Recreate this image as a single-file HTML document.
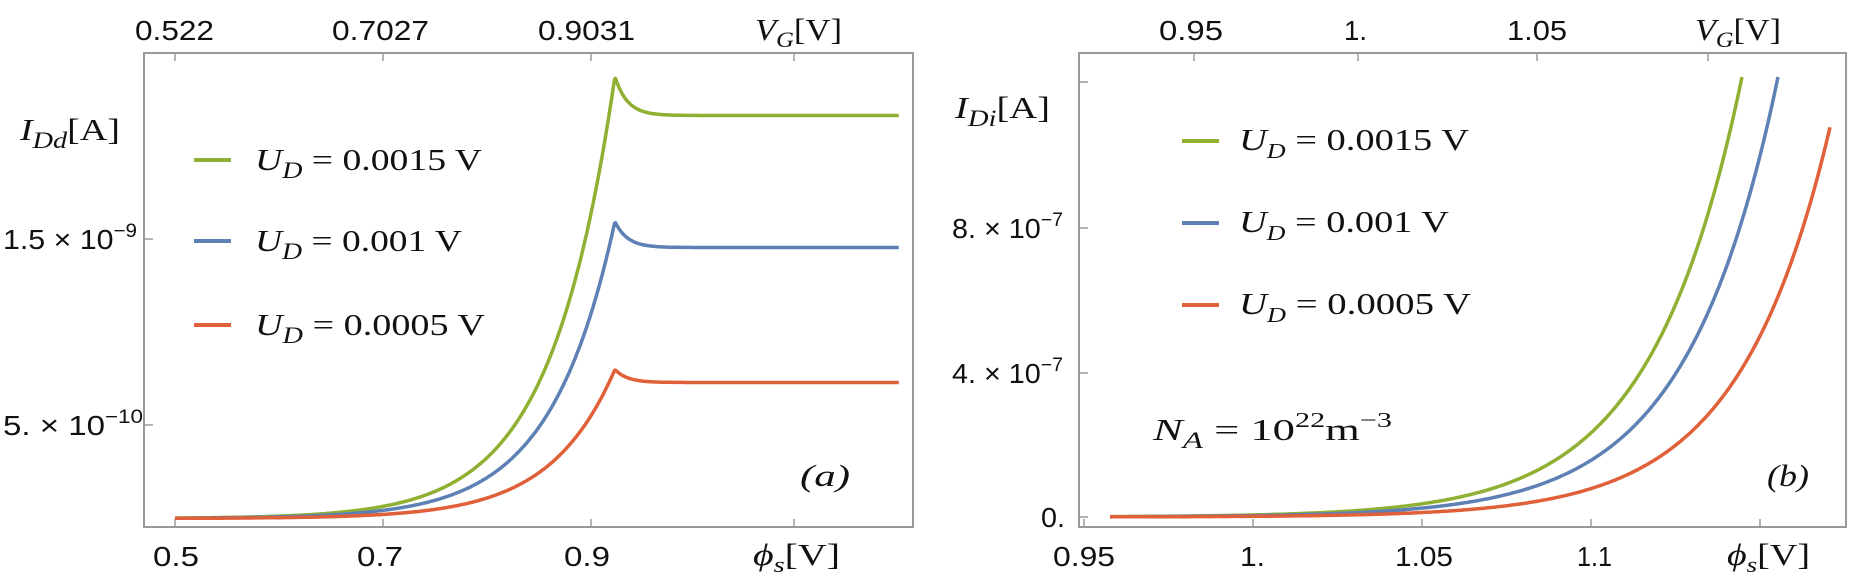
<!DOCTYPE html>
<html><head><meta charset="utf-8"><style>
html,body{margin:0;padding:0;background:#fff;}
svg{display:block;}
.s{font-family:"Liberation Sans",sans-serif;font-size:28px;fill:#111;}
.r{font-family:"Liberation Serif",serif;font-size:31px;fill:#111;}
.i{font-style:italic;}
</style></head><body>
<svg id="c" width="1850" height="585" viewBox="0 0 1850 585" xmlns="http://www.w3.org/2000/svg">
<rect width="1850" height="585" fill="#fff"/>
<rect x="144" y="53" width="769" height="474" fill="none" stroke="#9a9a9a" stroke-width="2"/>
<g stroke="#9a9a9a" stroke-width="1.5">
<line x1="175" y1="527" x2="175" y2="519"/><line x1="383" y1="527" x2="383" y2="519"/><line x1="591" y1="527" x2="591" y2="519"/><line x1="794" y1="527" x2="794" y2="519"/>
<line x1="175" y1="53" x2="175" y2="61"/><line x1="383" y1="53" x2="383" y2="61"/><line x1="591" y1="53" x2="591" y2="61"/><line x1="794" y1="53" x2="794" y2="61"/>
<line x1="144" y1="239" x2="153" y2="239"/><line x1="144" y1="425" x2="153" y2="425"/>
</g>
<g class="s" lengthAdjust="spacingAndGlyphs">
<text x="135" y="40" textLength="79" lengthAdjust="spacingAndGlyphs">0.522</text>
<text x="332" y="40" textLength="97" lengthAdjust="spacingAndGlyphs">0.7027</text>
<text x="538" y="40" textLength="97" lengthAdjust="spacingAndGlyphs">0.9031</text>
<text x="153" y="566" textLength="46" lengthAdjust="spacingAndGlyphs">0.5</text>
<text x="357" y="566" textLength="46" lengthAdjust="spacingAndGlyphs">0.7</text>
<text x="564" y="566" textLength="46" lengthAdjust="spacingAndGlyphs">0.9</text>
</g>
<text class="s" font-size="26" x="3" y="249" textLength="134" lengthAdjust="spacingAndGlyphs">1.5 × 10<tspan dy="-12" font-size="19">−9</tspan></text>
<text class="s" font-size="26" x="3" y="435" textLength="140" lengthAdjust="spacingAndGlyphs">5. × 10<tspan dy="-12" font-size="19">−10</tspan></text>
<text class="r" x="755" y="40" textLength="87" lengthAdjust="spacingAndGlyphs"><tspan class="i">V</tspan><tspan class="i" font-size="22" dy="7">G</tspan><tspan dy="-7">[V]</tspan></text>
<text class="r" x="753" y="565" textLength="87" lengthAdjust="spacingAndGlyphs"><tspan class="i">ϕ</tspan><tspan class="i" font-size="22" dy="7">s</tspan><tspan dy="-7">[V]</tspan></text>
<text class="r" x="20" y="140" textLength="100" lengthAdjust="spacingAndGlyphs"><tspan class="i">I</tspan><tspan class="i" font-size="23" dy="8">Dd</tspan><tspan dy="-8">[A]</tspan></text>
<text class="r i" x="800" y="486" textLength="50" lengthAdjust="spacingAndGlyphs">(a)</text>
<g stroke-width="4">
<line x1="194" y1="160" x2="231" y2="160" stroke="#8fb032"/>
<line x1="194" y1="241" x2="231" y2="241" stroke="#5e81b5"/>
<line x1="194" y1="325" x2="231" y2="325" stroke="#e0603a"/>
</g>
<g class="r">
<text x="255" y="170" textLength="227" lengthAdjust="spacingAndGlyphs"><tspan class="i">U</tspan><tspan class="i" font-size="23" dy="8">D</tspan><tspan dy="-8"> = 0.0015 V</tspan></text>
<text x="255" y="251" textLength="207" lengthAdjust="spacingAndGlyphs"><tspan class="i">U</tspan><tspan class="i" font-size="23" dy="8">D</tspan><tspan dy="-8"> = 0.001 V</tspan></text>
<text x="255" y="335" textLength="230" lengthAdjust="spacingAndGlyphs"><tspan class="i">U</tspan><tspan class="i" font-size="23" dy="8">D</tspan><tspan dy="-8"> = 0.0005 V</tspan></text>
</g>
<rect x="1079" y="53" width="767" height="474" fill="none" stroke="#9a9a9a" stroke-width="2"/>
<g stroke="#9a9a9a" stroke-width="1.5">
<line x1="1084" y1="527" x2="1084" y2="519"/><line x1="1253" y1="527" x2="1253" y2="519"/><line x1="1422" y1="527" x2="1422" y2="519"/><line x1="1591" y1="527" x2="1591" y2="519"/><line x1="1760" y1="527" x2="1760" y2="519"/>
<line x1="1194" y1="53" x2="1194" y2="61"/><line x1="1358" y1="53" x2="1358" y2="61"/><line x1="1537" y1="53" x2="1537" y2="61"/><line x1="1708" y1="53" x2="1708" y2="61"/>
<line x1="1079" y1="517" x2="1088" y2="517"/><line x1="1079" y1="373" x2="1088" y2="373"/><line x1="1079" y1="228" x2="1088" y2="228"/><line x1="1079" y1="82" x2="1088" y2="82"/>
</g>
<g class="s">
<text x="1159" y="40" textLength="64" lengthAdjust="spacingAndGlyphs">0.95</text>
<text x="1344" y="40" textLength="23" lengthAdjust="spacingAndGlyphs">1.</text>
<text x="1507" y="40" textLength="60" lengthAdjust="spacingAndGlyphs">1.05</text>
<text x="1053" y="566" textLength="62" lengthAdjust="spacingAndGlyphs">0.95</text>
<text x="1240" y="566" textLength="25" lengthAdjust="spacingAndGlyphs">1.</text>
<text x="1395" y="566" textLength="58" lengthAdjust="spacingAndGlyphs">1.05</text>
<text x="1577" y="566" textLength="35" lengthAdjust="spacingAndGlyphs">1.1</text>
</g>
<g class="s" font-size="26">
<text x="952" y="238" textLength="111" lengthAdjust="spacingAndGlyphs">8. × 10<tspan dy="-12" font-size="19">−7</tspan></text>
<text x="952" y="383" textLength="111" lengthAdjust="spacingAndGlyphs">4. × 10<tspan dy="-12" font-size="19">−7</tspan></text>
<text x="1041" y="527" textLength="24" lengthAdjust="spacingAndGlyphs">0.</text>
</g>
<text class="r" x="1695" y="40" textLength="86" lengthAdjust="spacingAndGlyphs"><tspan class="i">V</tspan><tspan class="i" font-size="22" dy="7">G</tspan><tspan dy="-7">[V]</tspan></text>
<text class="r" x="1727" y="565" textLength="83" lengthAdjust="spacingAndGlyphs"><tspan class="i">ϕ</tspan><tspan class="i" font-size="22" dy="7">s</tspan><tspan dy="-7">[V]</tspan></text>
<text class="r" x="955" y="118" textLength="95" lengthAdjust="spacingAndGlyphs"><tspan class="i">I</tspan><tspan class="i" font-size="23" dy="8">Di</tspan><tspan dy="-8">[A]</tspan></text>
<text class="r i" x="1767" y="486" textLength="42" lengthAdjust="spacingAndGlyphs">(b)</text>
<text class="r" x="1153" y="440" textLength="239" lengthAdjust="spacingAndGlyphs"><tspan class="i">N</tspan><tspan class="i" font-size="23" dy="8">A</tspan><tspan dy="-8"> = 10</tspan><tspan dy="-13" font-size="21">22</tspan><tspan dy="13">m</tspan><tspan dy="-13" font-size="21">−3</tspan></text>
<g stroke-width="4">
<line x1="1182" y1="141" x2="1219" y2="141" stroke="#8fb032"/>
<line x1="1182" y1="223" x2="1219" y2="223" stroke="#5e81b5"/>
<line x1="1182" y1="305" x2="1219" y2="305" stroke="#e0603a"/>
</g>
<g class="r" font-size="29">
<text x="1239" y="150" textLength="230" lengthAdjust="spacingAndGlyphs"><tspan class="i">U</tspan><tspan class="i" font-size="21" dy="8">D</tspan><tspan dy="-8"> = 0.0015 V</tspan></text>
<text x="1239" y="232" textLength="210" lengthAdjust="spacingAndGlyphs"><tspan class="i">U</tspan><tspan class="i" font-size="21" dy="8">D</tspan><tspan dy="-8"> = 0.001 V</tspan></text>
<text x="1239" y="314" textLength="232" lengthAdjust="spacingAndGlyphs"><tspan class="i">U</tspan><tspan class="i" font-size="21" dy="8">D</tspan><tspan dy="-8"> = 0.0005 V</tspan></text>
</g>
<g id="curves" fill="none" stroke-width="3.5" stroke-linejoin="round"></g>
</svg>
<script>
(function(){
var g=document.getElementById('curves'),ns='http://www.w3.org/2000/svg';
function add(d,c){var p=document.createElementNS(ns,'path');p.setAttribute('d',d);p.setAttribute('stroke',c);g.appendChild(p);}
var L=[[442,403,'#8fb032'],[297,271,'#5e81b5'],[149,136,'#e0603a']];
L.forEach(function(s){var d='';for(var i=0;i<=700;i++){var f=0.5+i*0.696/700;var h;
if(f<=0.923)h=s[0]*Math.exp((f-0.923)/0.062);else h=s[1]+(s[0]-s[1])*Math.exp(-(f-0.923)/0.012);
var x=175+(f-0.5)*1040,y=518.5-h;d+=(i?'L':'M')+x.toFixed(1)+' '+y.toFixed(1);}add(d,s[2]);});
var R=[[1742,440,'#8fb032'],[1778,440,'#5e81b5'],[1831,394,'#e0603a']];
R.forEach(function(s){var d='';for(var x=1110;x<=s[0];x+=2){var h=s[1]*Math.exp((x-s[0])/3380/0.027);
d+=(x==1110?'M':'L')+x+' '+(517-h).toFixed(1);}add(d,s[2]);});
})();
</script>
</body></html>
